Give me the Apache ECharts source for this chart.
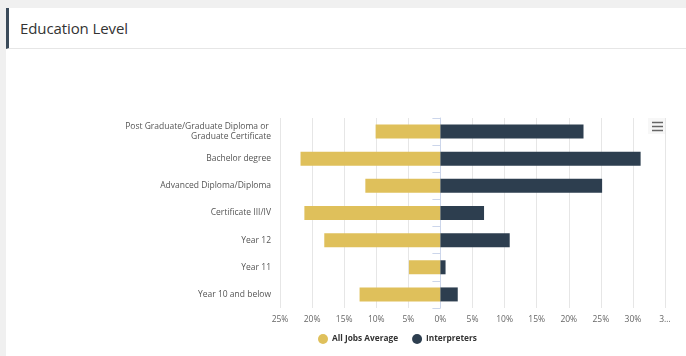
<!DOCTYPE html>
<html>
<head>
<meta charset="utf-8">
<script src="https://cdn.jsdelivr.net/npm/echarts@6/dist/echarts.min.js"></script>
<style>
  html, body { margin: 0; padding: 0; width: 686px; height: 356px; overflow: hidden; background: #f0f0f0; font-family: "Open Sans", sans-serif; }
  #card { position: absolute; left: 6px; top: 8px; width: 680px; height: 348px; background: #fff; }
  #header { position: absolute; left: 0; top: 0; width: 680px; height: 41px; border-bottom: 1px solid #e6e6e6; border-left: 3px solid #3b4b5a; box-sizing: border-box; }
  #title { position: absolute; left: 11px; top: 10px; font-size: 15px; color: #333; font-family: "Open Sans", sans-serif; letter-spacing: -0.1px; }
  #chart { position: absolute; left: 0; top: 0; width: 686px; height: 356px; }
</style>
</head>
<body>
<div id="card"><div id="header"><div id="title">Education Level</div></div></div>
<div id="chart"></div>
<script>
const categories = [
  "Post Graduate/Graduate Diploma or Graduate Certificate",
  "Bachelor degree",
  "Advanced Diploma/Diploma",
  "Certificate III/IV",
  "Year 12",
  "Year 11",
  "Year 10 and below"
];
const seriesNames = ["All Jobs Average", "Interpreters"];
const allJobsAverage = [10.1, 21.8, 11.7, 21.2, 18.1, 4.9, 12.6];
const interpreters = [22.3, 31.2, 25.2, 6.8, 10.8, 0.8, 2.7];
const xTicks = { min: -25, max: 35, step: 5 };

const chart = echarts.init(document.getElementById('chart'));
chart.setOption({
  animation: false,
  grid: { left: 280, right: 21, top: 118, bottom: 48, containLabel: false },
  legend: {
    data: seriesNames,
    left: 313, bottom: 7,
    icon: 'circle', itemWidth: 10, itemHeight: 10, itemGap: 14,
    textStyle: { fontSize: 8.3, fontWeight: 'bold', color: '#333', fontFamily: 'Open Sans', padding: [0, 0, 0, -1] }
  },
  xAxis: {
    type: 'value', min: xTicks.min, max: xTicks.max, interval: xTicks.step,
    axisLine: { show: false }, axisTick: { show: false },
    splitLine: { show: true, lineStyle: { color: '#e6e6e6' } },
    axisLabel: {
      fontSize: 8.5, color: '#666', margin: 7, fontFamily: 'Open Sans',
      formatter: v => (v === xTicks.max ? String(v).charAt(0) + '…' : Math.abs(v) + '%')
    }
  },
  yAxis: {
    type: 'category', data: categories, inverse: true,
    axisLine: { show: true, lineStyle: { color: '#ccd6eb' } },
    axisTick: { show: true, length: 8, lineStyle: { color: '#ccd6eb' } },
    axisLabel: {
      fontSize: 8.5, color: '#555', margin: 9, fontFamily: 'Open Sans',
      width: 150, overflow: 'break', lineHeight: 10
    }
  },
  series: [
    {
      name: seriesNames[0], type: 'bar', stack: 'edu', barWidth: 14,
      itemStyle: { color: '#dfc05b' },
      data: allJobsAverage.map(v => -v)
    },
    {
      name: seriesNames[1], type: 'bar', stack: 'edu', barWidth: 14,
      itemStyle: { color: '#2d3e4f' },
      data: interpreters
    }
  ],
  graphic: [
    { type: 'rect', shape: { x: 648, y: 118, width: 17, height: 16 }, style: { fill: '#f7f7f7' } },
    { type: 'line', shape: { x1: 652, y1: 122.5, x2: 663, y2: 122.5 }, style: { stroke: '#666', lineWidth: 1.5 } },
    { type: 'line', shape: { x1: 652, y1: 126.5, x2: 663, y2: 126.5 }, style: { stroke: '#666', lineWidth: 1.5 } },
    { type: 'line', shape: { x1: 652, y1: 130.5, x2: 663, y2: 130.5 }, style: { stroke: '#666', lineWidth: 1.5 } }
  ]
});
</script>
</body>
</html>
